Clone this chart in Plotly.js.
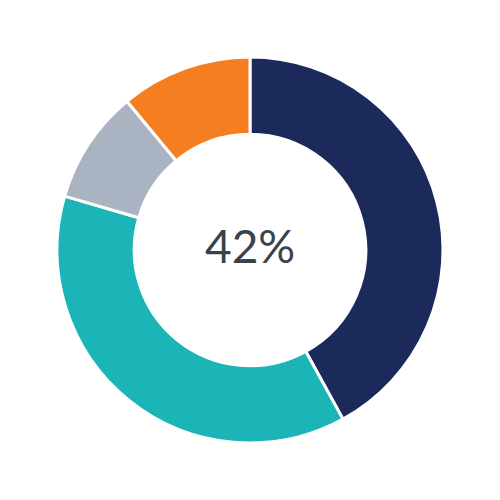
<!DOCTYPE html>
<html>
<head>
<meta charset="utf-8">
<script src="https://cdn.plot.ly/plotly-3.0.1.min.js"></script>
<style>html,body{margin:0;padding:0;background:#fff;}#chart{width:500px;height:500px;}</style>
</head>
<body>
<div id="chart"></div>
<script>
var labels = ["Navy", "Teal", "Gray", "Orange"];
var values = [42, 37.5, 9.5, 11];
var colors = ["#1b2a5b", "#1bb5b8", "#a9b3c1", "#f47e20"];
var centerLabel = "42%";

Plotly.newPlot("chart", [{
  type: "pie",
  labels: labels,
  values: values,
  hole: 0.6,
  sort: false,
  direction: "clockwise",
  rotation: 0,
  textinfo: "none",
  hoverinfo: "label+percent",
  marker: {colors: colors, line: {color: "#ffffff", width: 3}}
}], {
  width: 500,
  height: 500,
  margin: {l: 57, r: 57, t: 57, b: 57},
  showlegend: false,
  paper_bgcolor: "#ffffff",
  annotations: [{
    text: centerLabel,
    x: 0.5, y: 0.5, xref: "paper", yref: "paper",
    yshift: 5,
    showarrow: false,
    font: {family: "Lato, 'Open Sans', sans-serif", size: 46, color: "#3b4249"}
  }]
}, {displayModeBar: false, staticPlot: true});
</script>
</body>
</html>
